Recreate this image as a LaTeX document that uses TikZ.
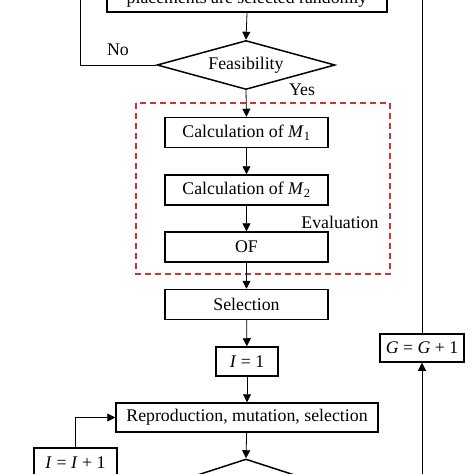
\documentclass[tikz,border=0pt]{standalone}
\usepackage{fontspec}
\setmainfont{Liberation Serif}
\usetikzlibrary{shapes.geometric,arrows.meta}
\begin{document}
\begin{tikzpicture}[x=1pt,y=-1pt,
  font=\fontsize{17.8}{21}\selectfont,
  box/.style={draw, line width=1.5pt, rectangle, inner sep=0pt, minimum height=30pt},
  dec/.style={draw, line width=1.5pt, diamond, inner sep=0pt, shape aspect=3.6},
  conn/.style={line width=0.8pt},
  arr/.style={line width=0.8pt, -{Triangle[length=8pt,width=8pt]}},
  evalbox/.style={draw=red!75!black!80, line width=1.2pt, dash pattern=on 6pt off 4pt}]
\useasboundingbox (0,0) rectangle (474,474);
\clip (0,0) rectangle (474,474);
\fill[white] (0,0) rectangle (474,474);
% nodes
\node[box, anchor=base, minimum width=280pt, text height=30pt, text depth=5pt, inner ysep=4pt] (init) at (247,3) {placements are selected randomly};
\node[dec, minimum width=178pt, minimum height=49pt] (feas) at (246,65) {Feasibility};
\node[box, minimum width=163pt] (m1) at (246.5,132.5) {Calculation of \textit{M}\textsubscript{1}};
\node[box, minimum width=163pt] (m2) at (246.5,190) {Calculation of \textit{M}\textsubscript{2}};
\node[box, minimum width=163pt] (of) at (246.5,247) {OF};
\node[box, minimum width=163pt] (sel) at (246.5,304.5) {Selection};
\node[box, minimum width=62pt, minimum height=29pt] (i1) at (247,361.5) {\textit{I} = 1};
\node[box, minimum width=262pt, minimum height=29pt] (rep) at (247,417.5) {Reproduction, mutation, selection};
\node[box, minimum width=83pt, minimum height=30pt] (ii) at (75.5,463) {\textit{I} = \textit{I} + 1};
\node[dec, minimum width=184pt, minimum height=60pt] (dec2) at (246,489) {};
\node[box, minimum width=84pt, minimum height=28pt] (gg) at (422,348) {\textit{G} = \textit{G} + 1};
\node (no) at (118,50) {No};
\node (yes) at (302,90) {Yes};
\node (ev) at (340,222) {Evaluation};
\coordinate (notop) at (80,-20);
\coordinate (gtop) at (422,-20);
\coordinate (gbot) at (422,500);
% evaluation frame
\draw[evalbox] (136,103) rectangle (390,274);
% connectors
\draw[arr] (init.south) -- (feas.north);
\draw[conn] (feas.west) -| (notop);
\draw[arr] (feas.south) -- (m1.north);
\draw[arr] (m1) -- (m2);
\draw[arr] (m2) -- (of);
\draw[arr] (of) -- (sel);
\draw[arr] (sel) -- (i1);
\draw[arr] (i1) -- (rep);
\draw[arr] (rep) -- (dec2.north);
\draw[arr] (ii.north) |- (rep.west);
\draw[arr] (gbot) -- (gg.south);
\draw[conn] (gg.north) -- (gtop);
\end{tikzpicture}
\end{document}
